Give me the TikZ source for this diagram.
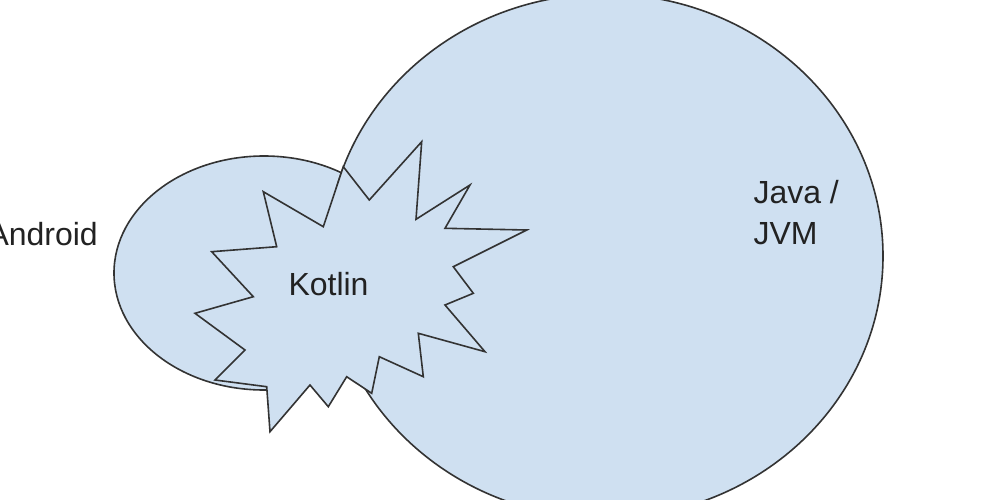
\documentclass[tikz,border=0pt]{standalone}
\usepackage{fontspec}
\setmainfont{Liberation Sans}
\definecolor{shapefill}{HTML}{CFE0F1}
\definecolor{shapeline}{HTML}{333333}
\definecolor{labeltext}{HTML}{222222}
\begin{document}
\begin{tikzpicture}[x=1pt,y=-1pt,
  blob/.style={fill=shapefill,draw=shapeline,line width=1.6pt,line join=miter},
  lbl/.style={text=labeltext,inner sep=0pt,font=\fontsize{32}{40.7}\selectfont}]
\useasboundingbox (0,0) rectangle (1000,500);
\clip (0,0) rectangle (1000,500);
\fill[white] (0,0) rectangle (1000,500);
% Android ellipse
\draw[blob] (264,273) ellipse[x radius=150,y radius=117];
% Java / JVM ellipse
\draw[blob] (605,256) ellipse[x radius=278,y radius=262];
% Kotlin star
\draw[blob] (263.3,191.7) -- (323.3,226.7) -- (343.3,166.7) -- (369.3,200)
  -- (421.7,141.7) -- (416,219.3) -- (470,185) -- (445,228.3)
  -- (526.7,230) -- (453.3,266.7) -- (473.3,293.3) -- (445,305)
  -- (485,351.7) -- (418.3,333.3) -- (423.3,376.7) -- (379.3,356.7)
  -- (371.7,393.3) -- (346.7,376.7) -- (328.3,406.7) -- (310,385)
  -- (270,431.7) -- (266.7,386.7) -- (215,380) -- (245,350)
  -- (195,313.3) -- (253.3,296.7) -- (211.7,251.7) -- (276.7,246.7) -- cycle;
\node[lbl,anchor=base east] (android) at (98,245.7) {Android};
\node[lbl,anchor=base west] (kotlin) at (288.3,295) {Kotlin};
\node[lbl,anchor=north west,align=left] (java) at (753.3,180.5) {Java /\\JVM};
\end{tikzpicture}
\end{document}
